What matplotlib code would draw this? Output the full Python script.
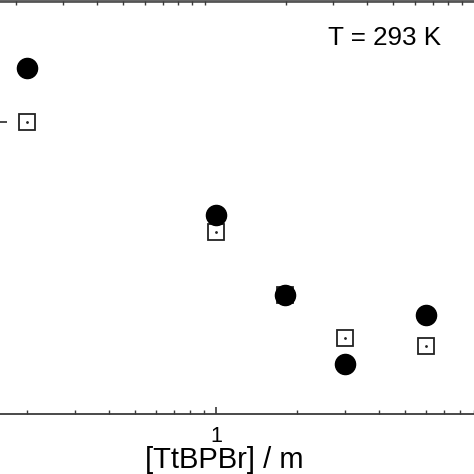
import matplotlib
matplotlib.use("Agg")
import matplotlib.pyplot as plt
import numpy as np
from matplotlib.ticker import FixedLocator, NullFormatter, FuncFormatter, NullLocator

plt.rcParams['font.family'] = ['Liberation Sans', 'DejaVu Sans']

# Data (y in arbitrary units)
conc = [0.2, 1.0, 1.8, 3.0, 6.0]
y_circles = [1.168, 0.713, 0.465, 0.252, 0.406]
y_squares = [1.000, 0.662, 0.465, 0.334, 0.308]
x_major = [1]
x_minor = [0.2, 0.3, 0.4, 0.5, 0.6, 0.7, 0.8, 0.9, 2, 3, 4, 5, 6, 7, 8, 9]
top_minor = [0.2, 0.3, 0.4, 0.5, 0.6, 0.7, 0.8, 0.9, 1, 2, 3, 4, 5, 6, 7, 8, 9]
y_major = [1.0]
label_text = "T = 293 K"
xlabel = "[TtBPBr] / m"

W = H = 474
fig = plt.figure(figsize=(4.74, 4.74), dpi=100)

# axes geometry in pixels
L, R = -1.5, 476.0
B_px, T_px = 60.5, 473.0
ax = fig.add_axes([L / W, B_px / H, (R - L) / W, (T_px - B_px) / H])

px_one, decade = 216.0, 270.0
xmin = 10 ** ((L - px_one) / decade)
xmax = 10 ** ((R - px_one) / decade)
ax.set_xscale('log')
ax.set_xlim(xmin, xmax)
ax.set_ylim(0.1, 1.375)

ax.plot(conc, y_circles, 'o', ms=14.5, color='black', mec='black', zorder=3)
ax.plot(conc, y_squares, 's', ms=12.2, mfc='white', mec='#222222', mew=1.3, zorder=2)
ax.plot(conc, y_squares, '.', ms=2, color='#222222', zorder=2.5)

spine_c = '#3a3a3a'
for s in ax.spines.values():
    s.set_linewidth(1.3)
    s.set_color(spine_c)
ax.spines['top'].set_linewidth(2.0)
ax.spines['top'].set_color('#555555')

ax.xaxis.set_major_locator(FixedLocator(x_major))
ax.xaxis.set_minor_locator(FixedLocator(x_minor))
ax.xaxis.set_major_formatter(FuncFormatter(lambda v, p: f"{v:g}"))
ax.xaxis.set_minor_formatter(NullFormatter())
ax.yaxis.set_major_locator(FixedLocator(y_major))
ax.yaxis.set_minor_locator(NullLocator())

ax.tick_params(axis='x', which='major', direction='in', length=5, width=1.2,
               color=spine_c, top=True, labelsize=15.5, pad=9)
ax.tick_params(axis='x', which='minor', direction='in', length=2.6, width=1.0,
               color=spine_c, top=False)
ax.tick_params(axis='y', which='major', direction='in', length=6, width=1.3,
               color=spine_c, labelleft=False, right=False)

ax.set_xlabel(xlabel, fontsize=21, va='top')
ax.xaxis.set_label_coords(0.472, -0.080)

# top axis minor ticks (slightly offset, as in the reference)
shift = 10 ** (11.5 / decade)
ax2 = ax.twiny()
ax2.set_xscale('log')
ax2.set_xlim(xmin * shift, xmax * shift)
ax2.xaxis.set_major_locator(NullLocator())
ax2.xaxis.set_minor_locator(FixedLocator(top_minor))
ax2.xaxis.set_minor_formatter(NullFormatter())
ax2.tick_params(axis='x', which='minor', direction='in', length=2.8, width=1.0,
                color=spine_c, top=True, bottom=False)
for s in ax2.spines.values():
    s.set_visible(False)

ax.text(0.808, 0.91, label_text, transform=ax.transAxes, fontsize=18.7,
        ha='center', va='center')

fig.savefig('out.png', dpi=100)
